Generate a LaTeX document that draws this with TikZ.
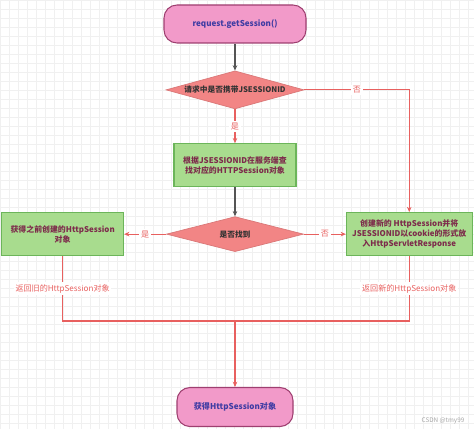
\documentclass[tikz,border=0pt]{standalone}
\usepackage{fontspec}
\setmainfont{Noto Sans CJK SC}
\usetikzlibrary{arrows.meta,positioning,shapes.geometric}
\definecolor{flpink}{HTML}{F29AC9}
\definecolor{flpinkline}{HTML}{9E3F70}
\definecolor{flindigo}{HTML}{3F3CA3}
\definecolor{flcoral}{HTML}{F28585}
\definecolor{flgreen}{HTML}{A8DC8E}
\definecolor{flgreenline}{HTML}{6CB55A}
\definecolor{flmaroon}{HTML}{7D2B4B}
\definecolor{flred}{HTML}{E8605F}
\definecolor{flgrey}{HTML}{555555}

\tikzset{
  term/.style={draw=flpinkline, fill=flpink, line width=0.6pt, rounded corners=0.26cm,
    minimum height=0.76cm, text=flindigo, font=\fontsize{4.6}{5.6}\selectfont\bfseries},
  ask/.style={diamond, draw=flcoral!90!black, fill=flcoral, line width=0.4pt, inner sep=0pt,
    aspect=3.6, text=black!80, font=\fontsize{4.4}{5.4}\selectfont\bfseries},
  work/.style={draw=flgreenline, fill=flgreen, line width=0.6pt, minimum width=2.44cm,
    minimum height=0.86cm, align=center, text=flmaroon, font=\fontsize{4.5}{5.7}\selectfont\bfseries},
  yesno/.style={fill=white, text=flred, inner sep=1pt, font=\fontsize{4.6}{5.6}\selectfont},
  redline/.style={draw=flred, line width=0.6pt},
  greyline/.style={draw=flgrey, line width=0.7pt},
}

\begin{document}
\begin{tikzpicture}[>={Stealth[length=3pt,width=2.6pt]}]
  \useasboundingbox (0,0) rectangle (9.48,-8.58);
  \draw[gray!12, line width=0.3pt, step=0.18cm] (0,-8.58) grid (9.48,0);

  \node[term, minimum width=2.84cm] (start) at (4.70,-0.48) {request.getSession()};
  \node[ask, minimum width=2.76cm, minimum height=0.76cm, below=0.54cm of start] (hasid) {请求中是否携带JSESSIONID};
  \node[work, below=0.68cm of hasid] (lookup) {根据JSESSIONID在服务端查\\找对应的HTTPSession对象};
  \node[ask, minimum width=2.74cm, minimum height=0.70cm, below=0.58cm of lookup] (found) {是否找到};
  \node[work, left=0.84cm of found] (oldsess) {获得之前创建的HttpSession\\对象};
  \node[work, right=0.84cm of found] (newsess) {创建新的 HttpSession并将\\JSESSIONID以cookie的形式放\\入HttpServletResponse};
  \node[term, minimum width=2.32cm, minimum height=0.78cm, below=2.70cm of found] (result) {获得HttpSession对象};
  \node[text=gray!70, font=\fontsize{3.6}{4}\selectfont] (mark) at (8.86,-8.42) {CSDN @tmy99};

  \coordinate[below=1.38cm of found.south] (merge);

  \draw[greyline, ->] (start) -- (hasid);
  \draw[greyline, ->] (lookup) -- (found);

  \draw[redline, ->] (hasid) -- node[yesno] {是} (lookup);
  \draw[redline, ->] (hasid.east) -- node[yesno] {否} (hasid.east -| newsess.north) -- (newsess.north);
  \draw[redline, ->] (found) -- node[yesno] {是} (oldsess);
  \draw[redline, ->] (found) -- node[yesno] {否} (newsess);

  \draw[redline] (oldsess.south) -- node[yesno] {返回旧的HttpSession对象} (oldsess.south |- merge)
    -- (newsess.south |- merge) -- node[yesno] {返回新的HttpSession对象} (newsess.south);
  \draw[redline, ->] (merge) -- (result);
\end{tikzpicture}
\end{document}
